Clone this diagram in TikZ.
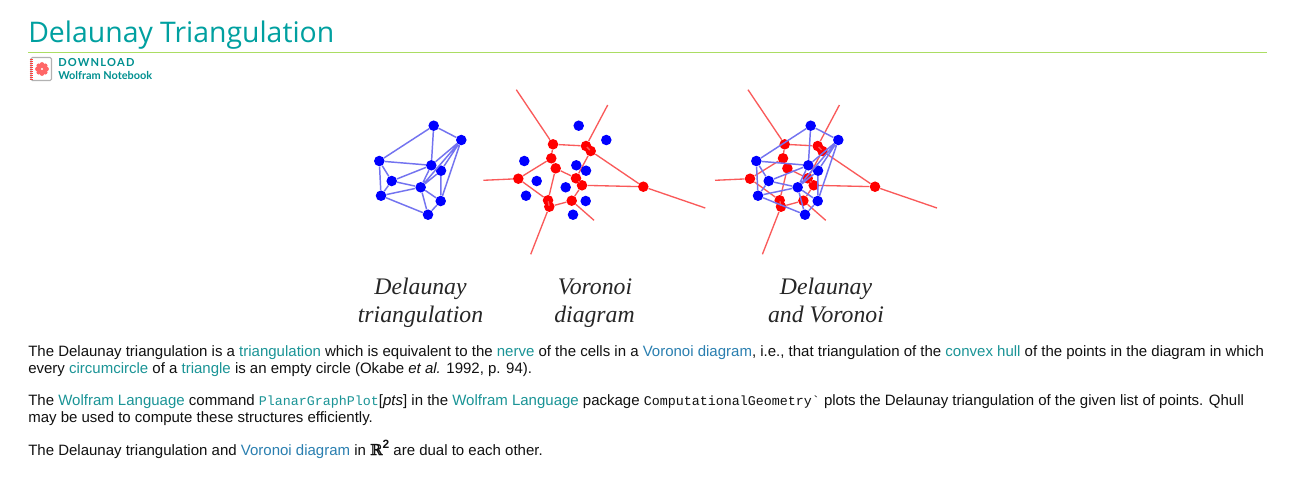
\documentclass[tikz,border=0pt]{standalone}
\usepackage{fontspec}
\setmainfont{Liberation Sans}
\setmonofont{Liberation Mono}
\newfontfamily\titlefont{Open Sans}
\newfontfamily\capfont{Liberation Serif}
\newfontfamily\dlfont{Lato}
\newfontfamily\dlspaced[LetterSpace=11]{Lato}
\newfontfamily\bbfont[FakeBold=1.5]{DejaVu Serif}
\definecolor{teal1}{HTML}{00A0A0}
\definecolor{linkc}{HTML}{1A9496}
\definecolor{linkb}{HTML}{2A7FB0}
\definecolor{rulec}{HTML}{ABDD63}
\definecolor{txt}{HTML}{111111}
\definecolor{blueln}{RGB}{115,115,240}
\definecolor{redln}{RGB}{250,90,90}
\newcommand{\lk}[1]{\textcolor{linkc}{#1}}
\newcommand{\lb}[1]{\textcolor{linkb}{#1}}
\tikzset{
  x=0.75pt,y=-0.75pt,
  bluedot/.style={circle,fill=blue,inner sep=0pt,minimum size=7.9pt},
  reddot/.style={circle,fill=red,inner sep=0pt,minimum size=7.9pt},
  blueline/.style={draw=blueln,line width=1.1pt},
  redline/.style={draw=redln,line width=1pt},
  bodytext/.style={anchor=base west,inner sep=0pt,font=\fontsize{11.25pt}{13pt}\selectfont,text=txt},
  captext/.style={anchor=base,inner sep=0pt,font=\capfont\itshape\fontsize{17.8pt}{21pt}\selectfont,text=black!85},
  spiral/.style={draw=red!75!white,line width=0.7pt},
}
\newcommand{\bluepts}{%
  \node[bluedot] (A) at (433.7,125.7) {};
  \node[bluedot] (B) at (461.3,140) {};
  \node[bluedot] (C) at (379.3,161) {};
  \node[bluedot] (D) at (431.3,165.3) {};
  \node[bluedot] (E) at (441,170.7) {};
  \node[bluedot] (F) at (391.7,181) {};
  \node[bluedot] (G) at (420.7,187.3) {};
  \node[bluedot] (H) at (381,195.7) {};
  \node[bluedot] (I) at (440.7,201) {};
  \node[bluedot] (J) at (428,214.7) {};
}
\newcommand{\blueedges}{%
  \draw[blueline] (A)--(B) (A)--(C) (A)--(D) (B)--(D) (B)--(E) (B)--(G) (B)--(I)
    (C)--(D) (C)--(F) (C)--(H) (D)--(E) (D)--(F) (D)--(G) (E)--(G) (E)--(I)
    (F)--(G) (F)--(H) (G)--(H) (G)--(I) (G)--(J) (H)--(J) (I)--(J);
}
\newcommand{\voronoi}{%
  \coordinate (e1) at (516.3,89.7);
  \coordinate (e2) at (607.7,105);
  \coordinate (e3) at (483.3,180.3);
  \coordinate (e4) at (705.3,208);
  \coordinate (e5) at (594,220.3);
  \coordinate (e6) at (530.7,254.3);
  \node[reddot] (v1) at (553,144.3) {};
  \node[reddot] (v2) at (586,146) {};
  \node[reddot] (v3) at (590.7,151) {};
  \node[reddot] (v4) at (551.3,158.3) {};
  \node[reddot] (v5) at (555.7,168.3) {};
  \node[reddot] (v6) at (518.3,178.7) {};
  \node[reddot] (v7) at (576,178.3) {};
  \node[reddot] (v8) at (582,185.3) {};
  \node[reddot] (v9) at (643.3,186.7) {};
  \node[reddot] (v10) at (548,200.3) {};
  \node[reddot] (v11) at (549.3,206.7) {};
  \node[reddot] (v12) at (571.7,200.7) {};
  \draw[redline] (v1)--(e1) (v2)--(e2) (v6)--(e3) (v9)--(e4) (v12)--(e5) (v11)--(e6)
    (v1)--(v2) (v2)--(v3) (v1)--(v4) (v4)--(v5) (v4)--(v6) (v3)--(v7) (v5)--(v7)
    (v7)--(v8) (v3)--(v9) (v8)--(v9) (v6)--(v10) (v10)--(v11) (v5)--(v10)
    (v11)--(v12) (v8)--(v12);
}
\begin{document}
\begin{tikzpicture}
\useasboundingbox (0,0) rectangle (1309,497);
\fill[white] (0,0) rectangle (1309,497);
% header
\node[anchor=base west,inner sep=0pt,text=teal1,font=\titlefont\fontsize{21.3pt}{26pt}\selectfont] (title) at (28,42) {Delaunay Triangulation};
\coordinate (ruleL) at (28,52.5);
\coordinate (ruleR) at (1267,52.5);
\draw[rulec,line width=0.75pt] (ruleL)--(ruleR);
% icon
\draw[black!30,fill=white,rounded corners=1pt,line width=0.8pt] (31,57.5) rectangle (51.5,80.5);
\foreach \yy in {59,61,...,79} {\draw[spiral] (29.5,\yy)--(33,\yy);}
\foreach \aa in {0,45,...,315} {\fill[red!60!white] (42,69)+(\aa:4.6) circle (2.3);}
\fill[red!60!white] (42,69) circle (3.5);
\fill[white] (42,69) circle (1.2);
\node[anchor=base west,inner sep=0pt,text=teal1!90!black,font=\dlspaced\bfseries\fontsize{8.3pt}{10pt}\selectfont] (dl) at (58,66.5) {DOWNLOAD};
\node[anchor=base west,inner sep=0pt,text=teal1!90!black,font=\dlfont\bfseries\fontsize{8.2pt}{10pt}\selectfont] (nb) at (58,79.5) {Wolfram Notebook};
% diagrams
\begin{scope}[name prefix=a-]
  \bluepts
  \blueedges
\end{scope}
\begin{scope}[name prefix=b-]
  \voronoi
\end{scope}
\begin{scope}[name prefix=bb-,shift={(145,0)}]
  \bluepts
\end{scope}
\begin{scope}[name prefix=c-,shift={(231.7,0)}]
  \voronoi
\end{scope}
\begin{scope}[name prefix=d-,shift={(377,0)}]
  \bluepts
  \blueedges
\end{scope}
% captions
\node[captext] (c1a) at (420.5,294.5) {Delaunay};
\node[captext] (c1b) at (420.5,322.5) {triangulation};
\node[captext] (c2a) at (595,294.5) {Voronoi};
\node[captext] (c2b) at (594.5,322.5) {diagram};
\node[captext] (c3a) at (826,294.5) {Delaunay};
\node[captext] (c3b) at (826,322.5) {and Voronoi};
% body
\node[bodytext] (p1) at (28,356) {The Delaunay triangulation is a \lk{triangulation} which is equivalent to the \lk{nerve} of the cells in a \lb{Voronoi diagram}, i.e., that triangulation of the \lk{convex hull} of the points in the diagram in which};
\node[bodytext] (p2) at (28,373) {every \lk{circumcircle} of a \lk{triangle} is an empty circle (Okabe \textit{et al.} 1992, p. 94).};
\node[bodytext] (p3) at (28,405) {The \lk{Wolfram Language} command \lk{\fontsize{10pt}{12pt}\selectfont\texttt{PlanarGraphPlot}}[\textit{pts}] in the \lk{Wolfram Language} package {\fontsize{10pt}{12pt}\selectfont\texttt{ComputationalGeometry`}} plots the Delaunay triangulation of the given list of points. Qhull};
\node[bodytext] (p4) at (28,422) {may be used to compute these structures efficiently.};
\node[bodytext] (p5) at (28,455) {The Delaunay triangulation and \lb{Voronoi diagram} in {\bbfont ℝ}\raisebox{0.42em}{\fontsize{9pt}{10pt}\selectfont\bfseries 2} are dual to each other.};
\end{tikzpicture}
\end{document}
